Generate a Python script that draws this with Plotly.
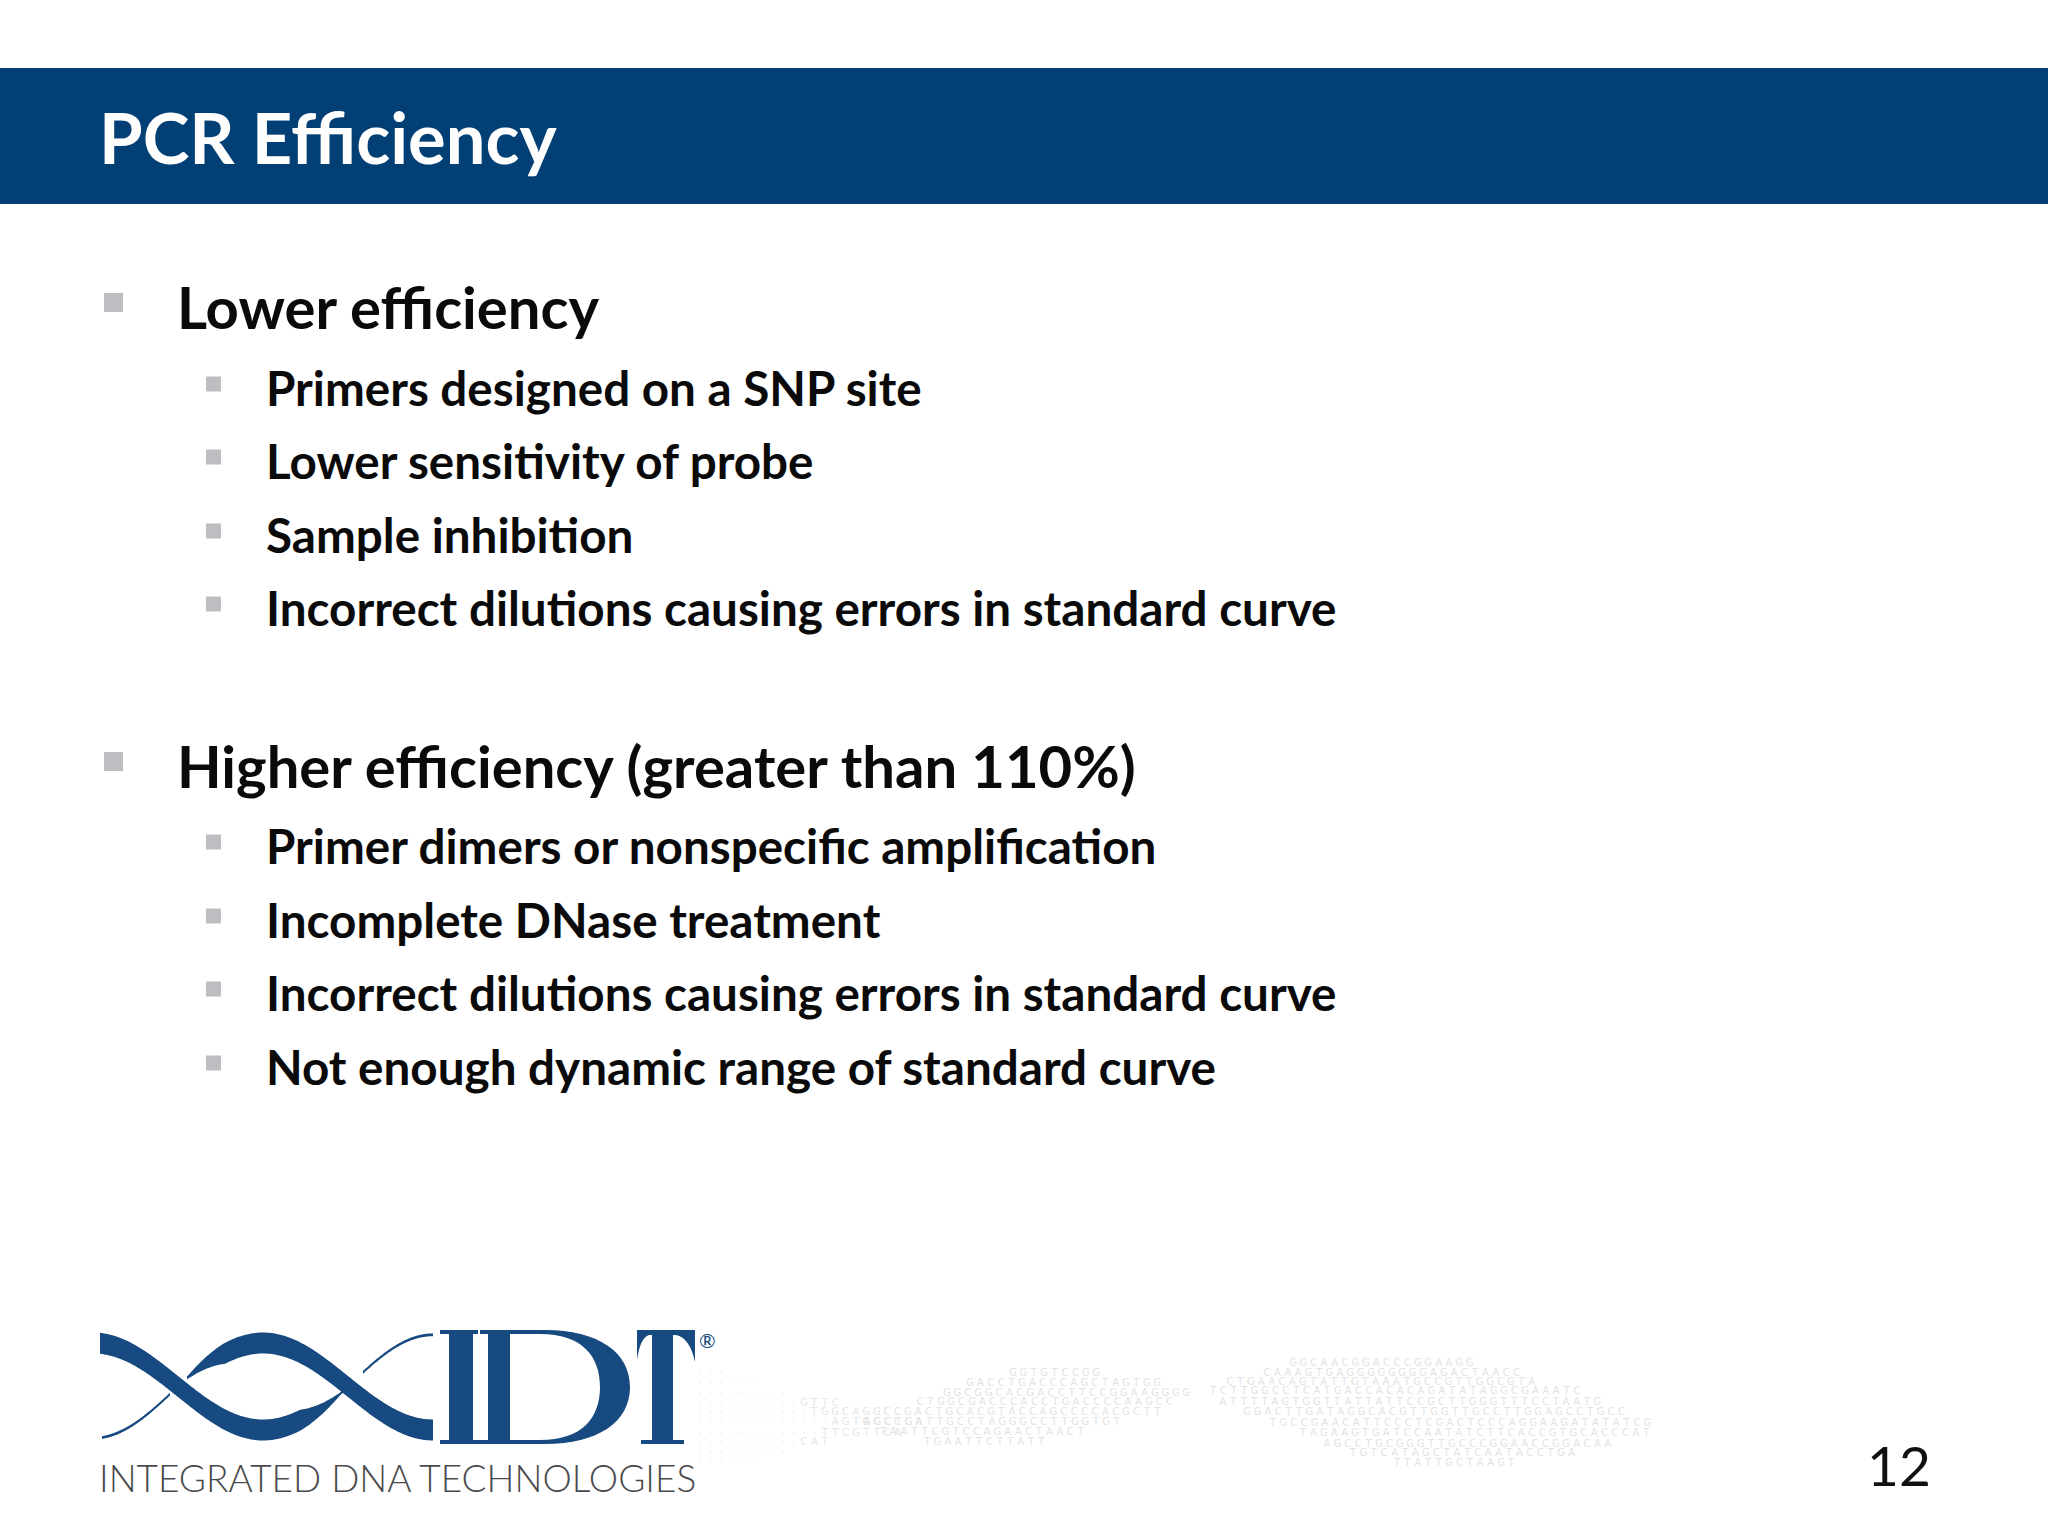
import numpy as np
import plotly.graph_objects as go

W, H = 2048, 1536

# ---------------- content ----------------
TITLE = "PCR Efficiency"
SECTION_HEADS = ["Lower efficiency", "Higher efficiency (greater than 110%)"]
LOWER_ITEMS = [
    "Primers designed on a SNP site",
    "Lower sensitivity of probe",
    "Sample inhibition",
    "Incorrect dilutions causing errors in standard curve",
]
HIGHER_ITEMS = [
    "Primer dimers or nonspecific amplification",
    "Incomplete DNase treatment",
    "Incorrect dilutions causing errors in standard curve",
    "Not enough dynamic range of standard curve",
]
PAGE_NUMBER = "12"
TAGLINE = "INTEGRATED DNA TECHNOLOGIES"

# DNA-letter watermark rows
WM_ROWS_1 = [
    "GGTGTCCGG",
    "GACCTGACCCAGCTAGTGG",
    "GGCGGCACGACCTTCCGGAAGGGG",
    "CTGGCGACCCACCTGACCCCAAGCC",
    "CCGACTGCACGTACCAGCCCCACGCTT",
    "AGCTGATTGCCTAGGGCCTTGGTGT",
    "TAATTCGTCCAGAACTAACT",
    "TGAATTCTTATT",
]
WM_ROWS_2 = [
    "GGCAACGGACCCGGAAGG",
    "CAAAGTGAGGGGGGGGAGACTAACC",
    "CTGAACAGTATTGTAAATGCCGTTGGCGTA",
    "TCTTGGCCTCATGACCACACAGATATAGGCGAAATC",
    "ATTTTAGTGGTTATTATTCCGCTTGGGTTTCCTAATG",
    "GGACTTGATAGGCACGTTGGTTGCCTTGGAGCCTGCC",
    "TGCCGAACATTCCCTCGACTCCCAGGAAGATATATCG",
    "TAGAAGTGATCCAATATCTTCACCGTGCACCCAT",
    "AGCCTGCGGGTTGCCCGGAACCGGACAA",
    "TGTCATAGCTATCAATACCTGA",
    "TTATTGCTAAGT",
]
WM_ROWS_0 = [
    "···",
    "······",
    "·········",
    "··········GTTC",
    "···········TGGCAGG",
    "·············AGTGCCCCA",
    "············TTCGTTCA",
    "··········CAT",
    "·········",
    "······",
]

# ---------------- layout constants ----------------
HEADER_TOP, HEADER_BOT = 68, 204
HEADER_COLOR = "#023F75"
LOGO_COLOR = "#164A80"
BULLET_COLOR = "#BDBDC2"
TEXT_COLOR = "#0A0A0A"

HEAD_Y = [306, 765]
ITEM_Y = [[387, 460, 534, 607], [845, 919, 992, 1066]]
HEAD_X, ITEM_X = 175, 264
HEAD_BULLET_X, ITEM_BULLET_X = 113.5, 213.5
HEAD_BULLET_S, ITEM_BULLET_S = 19, 15

FONT = "Lato, 'Open Sans', sans-serif"

fig = go.Figure()
shapes = []
annotations = []

# header band
shapes.append(dict(type="rect", x0=0, x1=W, y0=HEADER_TOP, y1=HEADER_BOT,
                   fillcolor=HEADER_COLOR, line=dict(width=0), layer="below"))
annotations.append(dict(x=97, y=136, text=TITLE, showarrow=False, xanchor="left",
                        yanchor="middle",
                        font=dict(family=FONT, size=70.5, color="white", weight=700)))

# bullets and text
for gi, (head, items) in enumerate(zip(SECTION_HEADS, [LOWER_ITEMS, HIGHER_ITEMS])):
    hy = HEAD_Y[gi]
    s = HEAD_BULLET_S
    shapes.append(dict(type="rect", x0=HEAD_BULLET_X - s / 2, x1=HEAD_BULLET_X + s / 2,
                       y0=hy - 3.5 - s / 2, y1=hy - 3.5 + s / 2,
                       fillcolor=BULLET_COLOR, line=dict(width=0)))
    annotations.append(dict(x=HEAD_X, y=hy, text=head, showarrow=False, xanchor="left",
                            yanchor="middle",
                            font=dict(family=FONT, size=58, color=TEXT_COLOR, weight=700)))
    for iy, item in zip(ITEM_Y[gi], items):
        s = ITEM_BULLET_S
        shapes.append(dict(type="rect", x0=ITEM_BULLET_X - s / 2, x1=ITEM_BULLET_X + s / 2,
                           y0=iy - 3 - s / 2, y1=iy - 3 + s / 2,
                           fillcolor=BULLET_COLOR, line=dict(width=0)))
        annotations.append(dict(x=ITEM_X, y=iy, text=item, showarrow=False, xanchor="left",
                                yanchor="middle",
                                font=dict(family=FONT, size=47.6, color=TEXT_COLOR, weight=700)))

# page number
annotations.append(dict(x=1899, y=1465, text=PAGE_NUMBER, showarrow=False, xanchor="center",
                        yanchor="middle",
                        font=dict(family="'Liberation Sans Narrow', Lato, sans-serif",
                                  size=55, color="#111111")))

# ---------------- IDT logo ----------------
MID, AMP, X0, HP = 1386.5, 43.5, 93.0, 170.0


def strand_path(sign, xa, xb, wfun):
    xs = np.linspace(xa, xb, 120)
    w = np.array([wfun(x) for x in xs])
    a = AMP + (10.5 - w) * 0.9
    c = MID - sign * a * np.cos(np.pi * (xs - X0) / HP)
    up = c - w
    lo = c + w
    pts = [f"{x:.2f},{y:.2f}" for x, y in zip(xs, up)]
    pts += [f"{x:.2f},{y:.2f}" for x, y in zip(xs[::-1], lo[::-1])]
    return "M " + " L ".join(pts) + " Z"


def w_a(x):
    if x <= 300:
        return 10.5
    return max(1.4, 10.5 - (x - 300) * (9.1 / 40.0))


def w_b(x):
    if x >= 225:
        return 10.5
    return min(10.5, 1.4 + (x - 187) * (9.1 / 38.0))


thin = lambda x: 1.4
for path in [
    strand_path(+1, 100, 343, w_a),
    strand_path(+1, 363, 433, thin),
    strand_path(-1, 102, 170, thin),
    strand_path(-1, 187, 433, w_b),
]:
    shapes.append(dict(type="path", path=path, fillcolor=LOGO_COLOR, line=dict(width=0)))

I_PATH = ("M 440,1330 L 478,1330 L 478,1334 L 473,1334 L 473,1440 L 481,1440 L 481,1444 "
          "L 440,1444 L 440,1440 L 449,1440 L 449,1334 L 440,1334 Z")
D_PATH = ("M 480,1330 L 545,1330 C 598,1330 630,1352 630,1387 C 630,1422 598,1444 545,1444 "
          "L 480,1444 L 480,1440 L 488,1440 L 488,1334 L 480,1334 Z "
          "M 510,1334 L 540,1334 C 582,1334 600,1356 600,1387 C 600,1418 582,1440 540,1440 "
          "L 510,1440 Z")
T_PATH = ("M 637,1330 L 695,1330 L 695,1362 Q 690,1338 676,1335 L 673,1335 L 673,1440 "
          "L 684,1440 L 684,1444 L 641,1444 L 641,1440 L 652,1440 L 652,1335 L 649,1335 "
          "Q 640,1338 637,1360 Z")
for p in [I_PATH, D_PATH, T_PATH]:
    shapes.append(dict(type="path", path=p, fillcolor=LOGO_COLOR, line=dict(width=0),
                       fillrule="evenodd"))

annotations.append(dict(x=707, y=1340, text="®", showarrow=False, xanchor="center",
                        yanchor="middle", font=dict(family=FONT, size=20, color=LOGO_COLOR)))
annotations.append(dict(x=97, y=1477, text=TAGLINE, showarrow=False, xanchor="left",
                        yanchor="middle",
                        font=dict(family=FONT, size=37, color="#4A4A4C", weight=300)))

# ---------------- DNA watermark ----------------
PITCH = 10.4
wm_specs = [
    (WM_ROWS_0, [1373, 1383, 1393, 1403, 1412, 1422, 1433, 1442, 1452, 1462],
     [700] * 10, "#E4E6EA"),
    (WM_ROWS_1, [1373, 1383, 1393, 1402, 1412, 1422, 1432, 1442],
     [1013, 970, 947, 920, 887, 867, 883, 927], "#E3E3E3"),
    (WM_ROWS_2, [1363, 1373, 1382, 1391, 1402, 1412, 1423, 1433, 1444, 1453, 1463],
     [1293, 1267, 1230, 1213, 1223, 1247, 1273, 1303, 1327, 1353, 1397], "#E3E3E3"),
]
for rows, ys, xs0, col in wm_specs:
    px, py, pt = [], [], []
    for row, y, x0 in zip(rows, ys, xs0):
        for k, ch in enumerate(row):
            px.append(x0 + k * PITCH)
            py.append(y)
            pt.append(ch)
    fig.add_trace(go.Scatter(x=px, y=py, text=pt, mode="text", hoverinfo="skip",
                             textfont=dict(family="'DejaVu Sans', sans-serif", size=10,
                                           color=col),
                             showlegend=False))

fig.update_layout(
    width=W, height=H,
    margin=dict(l=0, r=0, t=0, b=0),
    paper_bgcolor="white", plot_bgcolor="white",
    xaxis=dict(range=[0, W], visible=False, fixedrange=True),
    yaxis=dict(range=[H, 0], visible=False, fixedrange=True),
    shapes=shapes,
    annotations=annotations,
    showlegend=False,
)

fig.write_html("out.html", config={"displayModeBar": False, "staticPlot": True},
               post_script="document.body.style.margin='0';")
